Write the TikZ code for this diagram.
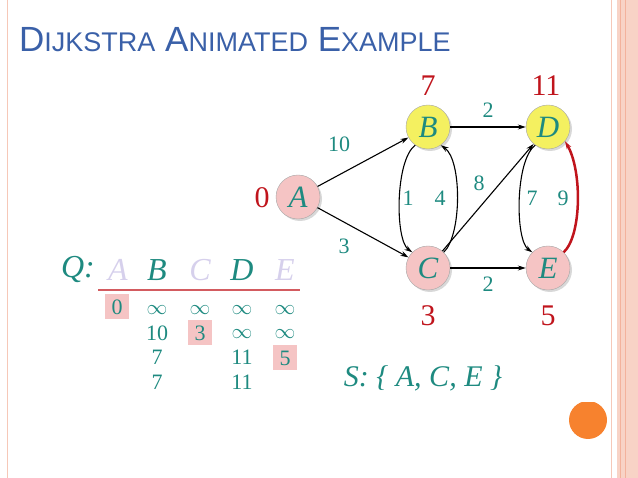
\documentclass[tikz,border=0pt]{standalone}
\usepackage{fontspec}
\setmainfont{Liberation Serif}
\newfontfamily\titlefont{Liberation Sans}
\usetikzlibrary{arrows.meta,shadows}
\definecolor{tl}{HTML}{1E8A80}
\definecolor{rd}{HTML}{C0141C}
\definecolor{lav}{HTML}{D6D0EC}
\definecolor{pk}{HTML}{F5C4C4}
\definecolor{yl}{HTML}{F4F060}
\definecolor{ttl}{HTML}{3A60A8}
\definecolor{brd}{HTML}{F6C8B8}
\definecolor{org}{HTML}{F7822E}
\tikzset{
 vert/.style={circle,draw=gray!70,minimum size=44pt,inner sep=0pt,font=\fontsize{31}{31}\selectfont\itshape,text=tl,drop shadow={shadow xshift=2pt,shadow yshift=-2pt,fill=gray!60}},
 pv/.style={vert,fill=pk},
 yv/.style={vert,fill=yl},
 dist/.style={font=\fontsize{30}{30}\selectfont,text=rd},
 wt/.style={font=\fontsize{22}{22}\selectfont,text=tl},
 edge/.style={-{Stealth[length=8pt,width=5pt]},line width=1.1pt},
 cell/.style={font=\fontsize{22}{22}\selectfont,text=tl,minimum width=24pt,minimum height=25pt,inner sep=0pt},
 hl/.style={cell,fill=pk},
 hd/.style={font=\fontsize{32}{32}\selectfont\itshape,text=tl},
 hdl/.style={hd,text=lav}
}
\begin{document}
\begin{tikzpicture}[x=1pt,y=-1pt]
\useasboundingbox (0,0) rectangle (638,478);
% borders
\draw[brd,line width=1pt] (7,0) -- (7,478);
\draw[brd,line width=1pt] (611,0) -- (611,478);
\fill[brd!80] (617,0) rectangle (638,478);
\draw[brd!140,line width=0.8pt] (620,0) -- (620,478);
\draw[brd!140,line width=0.8pt] (625,0) -- (625,478);
\begin{scope}
\clip (560,403) rectangle (620,450);
\fill[org] (588,420) circle (19);
\end{scope}
% title
\node[anchor=base west,text=ttl,inner sep=0pt] (title) at (19,52) {\titlefont\fontsize{35}{35}\selectfont D{\fontsize{27}{27}\selectfont IJKSTRA} A{\fontsize{27}{27}\selectfont NIMATED} E{\fontsize{27}{27}\selectfont XAMPLE}};
% graph
\node[pv] (A) at (298,197) {A};
\node[yv] (B) at (428,127) {B};
\node[pv] (C) at (428,268) {C};
\node[yv] (D) at (548,127) {D};
\node[pv] (E) at (548,268) {E};
\node[dist] (dA) at (262,198) {0};
\node[dist] (dB) at (428,86) {7};
\node[dist] (dD) at (546,86) {11};
\node[dist] (dC) at (428,316) {3};
\node[dist] (dE) at (548,316) {5};
\draw[edge] (A) -- (B);
\draw[edge] (A) -- (C);
\draw[edge] (B) -- (D);
\draw[edge] (C) -- (E);
\draw[edge] (C) -- (D);
\draw[edge] (B.235) .. controls (395,160) and (395,240) .. (C.135);
\draw[edge] (C.45) .. controls (462,235) and (462,160) .. (B.305);
\draw[edge] (D.235) .. controls (515,160) and (515,240) .. (E.135);
\draw[edge,rd,line width=2.5pt] (E.45) .. controls (582,235) and (582,170) .. (D.320);
\node[wt] (w1) at (339,144) {10};
\node[wt] (w2) at (344,246) {3};
\node[wt] (w3) at (488,110) {2};
\node[wt] (w4) at (488,284) {2};
\node[wt] (w5) at (408,198) {1};
\node[wt] (w6) at (440,198) {4};
\node[wt] (w7) at (479,183) {8};
\node[wt] (w8) at (532,198) {7};
\node[wt] (w9) at (563,198) {9};
% queue table
\node[hd] (Q) at (78,270) {Q:};
\node[hdl] (hA) at (118,270) {A};
\node[hd] (hB) at (157,270) {B};
\node[hdl] (hC) at (200,270) {C};
\node[hd] (hD) at (242,270) {D};
\node[hdl] (hE) at (285,270) {E};
\draw[rd!70,line width=2pt] (98,290) -- (300,290);
\node[hl] at (117,307) {0};
\node[cell] at (157,310) {$\infty$};
\node[cell] at (200,310) {$\infty$};
\node[cell] at (242,310) {$\infty$};
\node[cell] at (285,310) {$\infty$};
\node[cell] at (157,333) {10};
\node[hl] at (200,333) {3};
\node[cell] at (242,334) {$\infty$};
\node[cell] at (285,334) {$\infty$};
\node[cell] at (157,357) {7};
\node[cell] at (242,357) {11};
\node[hl] at (285,358) {5};
\node[cell] at (157,382) {7};
\node[cell] at (242,382) {11};
\node[font=\fontsize{30}{30}\selectfont\itshape,text=tl] (S) at (423,378) {S: \{ A, C, E \}};
\end{tikzpicture}
\end{document}
